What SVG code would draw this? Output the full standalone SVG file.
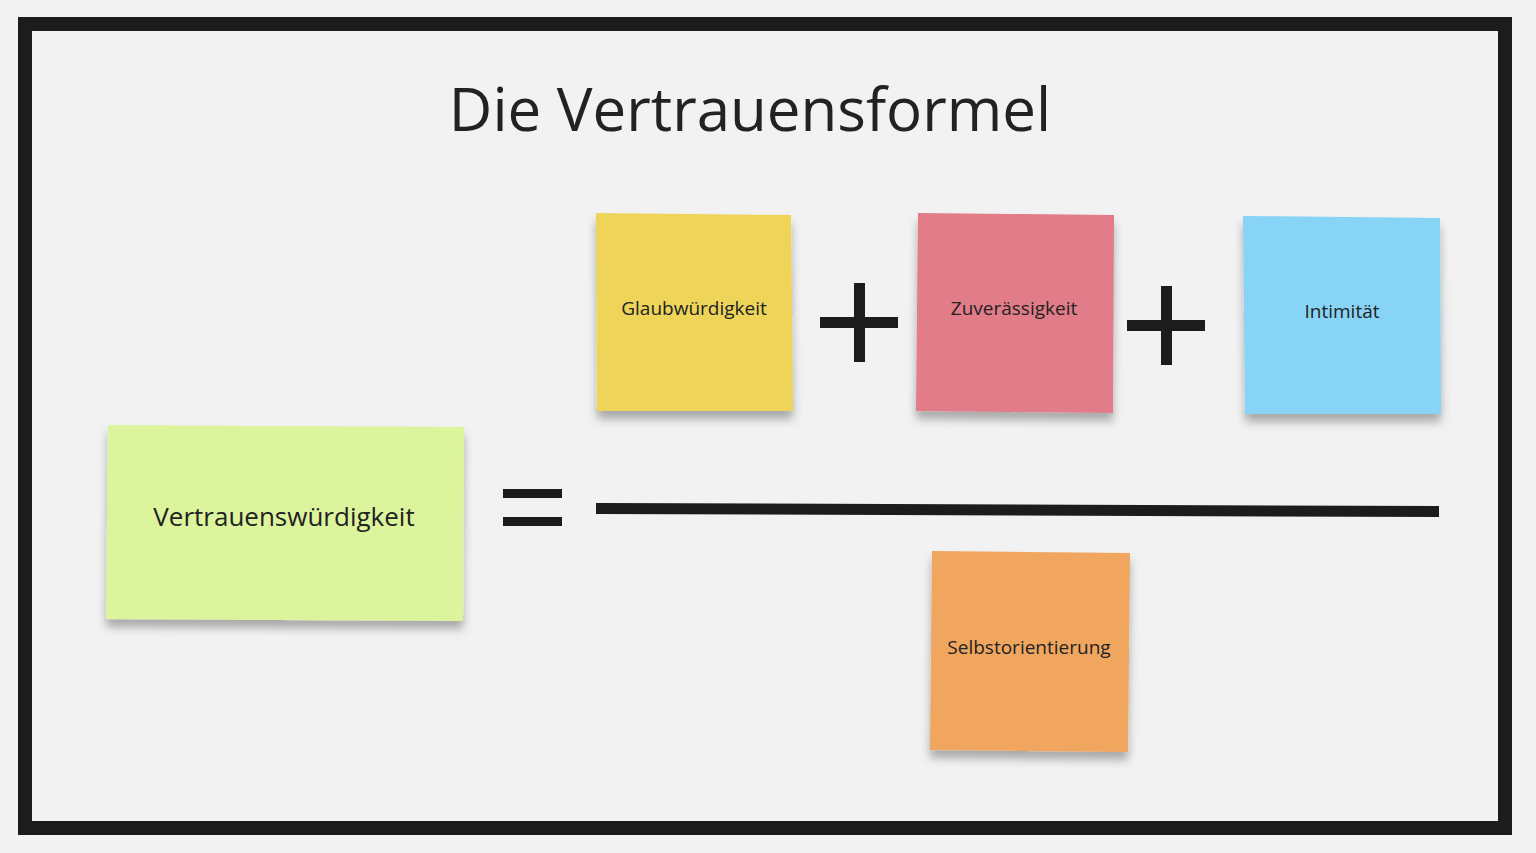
<svg xmlns="http://www.w3.org/2000/svg" width="1536" height="853" viewBox="0 0 1536 853">
<style>
.t{font-family:"Open Sans","Noto Sans",sans-serif;fill:#222;text-anchor:middle}
.s{font-size:19px}
.op{fill:#1c1c1c}
</style>
<defs>
<filter id="sh" x="-10%" y="-10%" width="120%" height="130%">
<feDropShadow dx="0" dy="8" stdDeviation="5" flood-color="#000" flood-opacity="0.3"/>
</filter>
</defs>
<rect width="1536" height="853" fill="#f2f2f2"/>
<rect x="25" y="24" width="1480" height="804" fill="#f2f2f2" stroke="#1c1c1c" stroke-width="14"/>
<text class="t" x="750" y="131" font-size="60">Die Vertrauensformel</text>
<g id="glaubwuerdigkeit"><polygon points="596,213 791,215 793,411 597,411" fill="#efd45a" filter="url(#sh)"/><text class="t s" x="694" y="315">Glaubwürdigkeit</text></g>
<g id="zuverlaessigkeit"><polygon points="918,213 1114,215 1113,413 916,411" fill="#e37c89" filter="url(#sh)"/><text class="t s" x="1014" y="315">Zuverässigkeit</text></g>
<g id="intimitaet"><polygon points="1243,216 1440,218 1441,414 1245,414" fill="#87d4f6" filter="url(#sh)"/><text class="t s" x="1342" y="318">Intimität</text></g>
<g id="vertrauenswuerdigkeit"><polygon points="108,425 464,427 463,621 106,619" fill="#dcf59c" filter="url(#sh)"/><text class="t" x="284" y="526" font-size="26">Vertrauenswürdigkeit</text></g>
<g id="selbstorientierung"><polygon points="932,551 1130,553 1128,752 930,750" fill="#f1a660" filter="url(#sh)"/><text class="t s" x="1029" y="654">Selbstorientierung</text></g>
<g id="connectors">
<rect class="op" x="820" y="317" width="78" height="11"/><rect class="op" x="854" y="283" width="11" height="79"/>
<rect class="op" x="1127" y="320" width="78" height="11"/><rect class="op" x="1161" y="286" width="11" height="79"/>
<rect class="op" x="503" y="489" width="59" height="9"/><rect class="op" x="503" y="517" width="59" height="9"/>
<polygon class="op" points="596,503 1439,506 1439,517 596,514"/>
</g>
</svg>
